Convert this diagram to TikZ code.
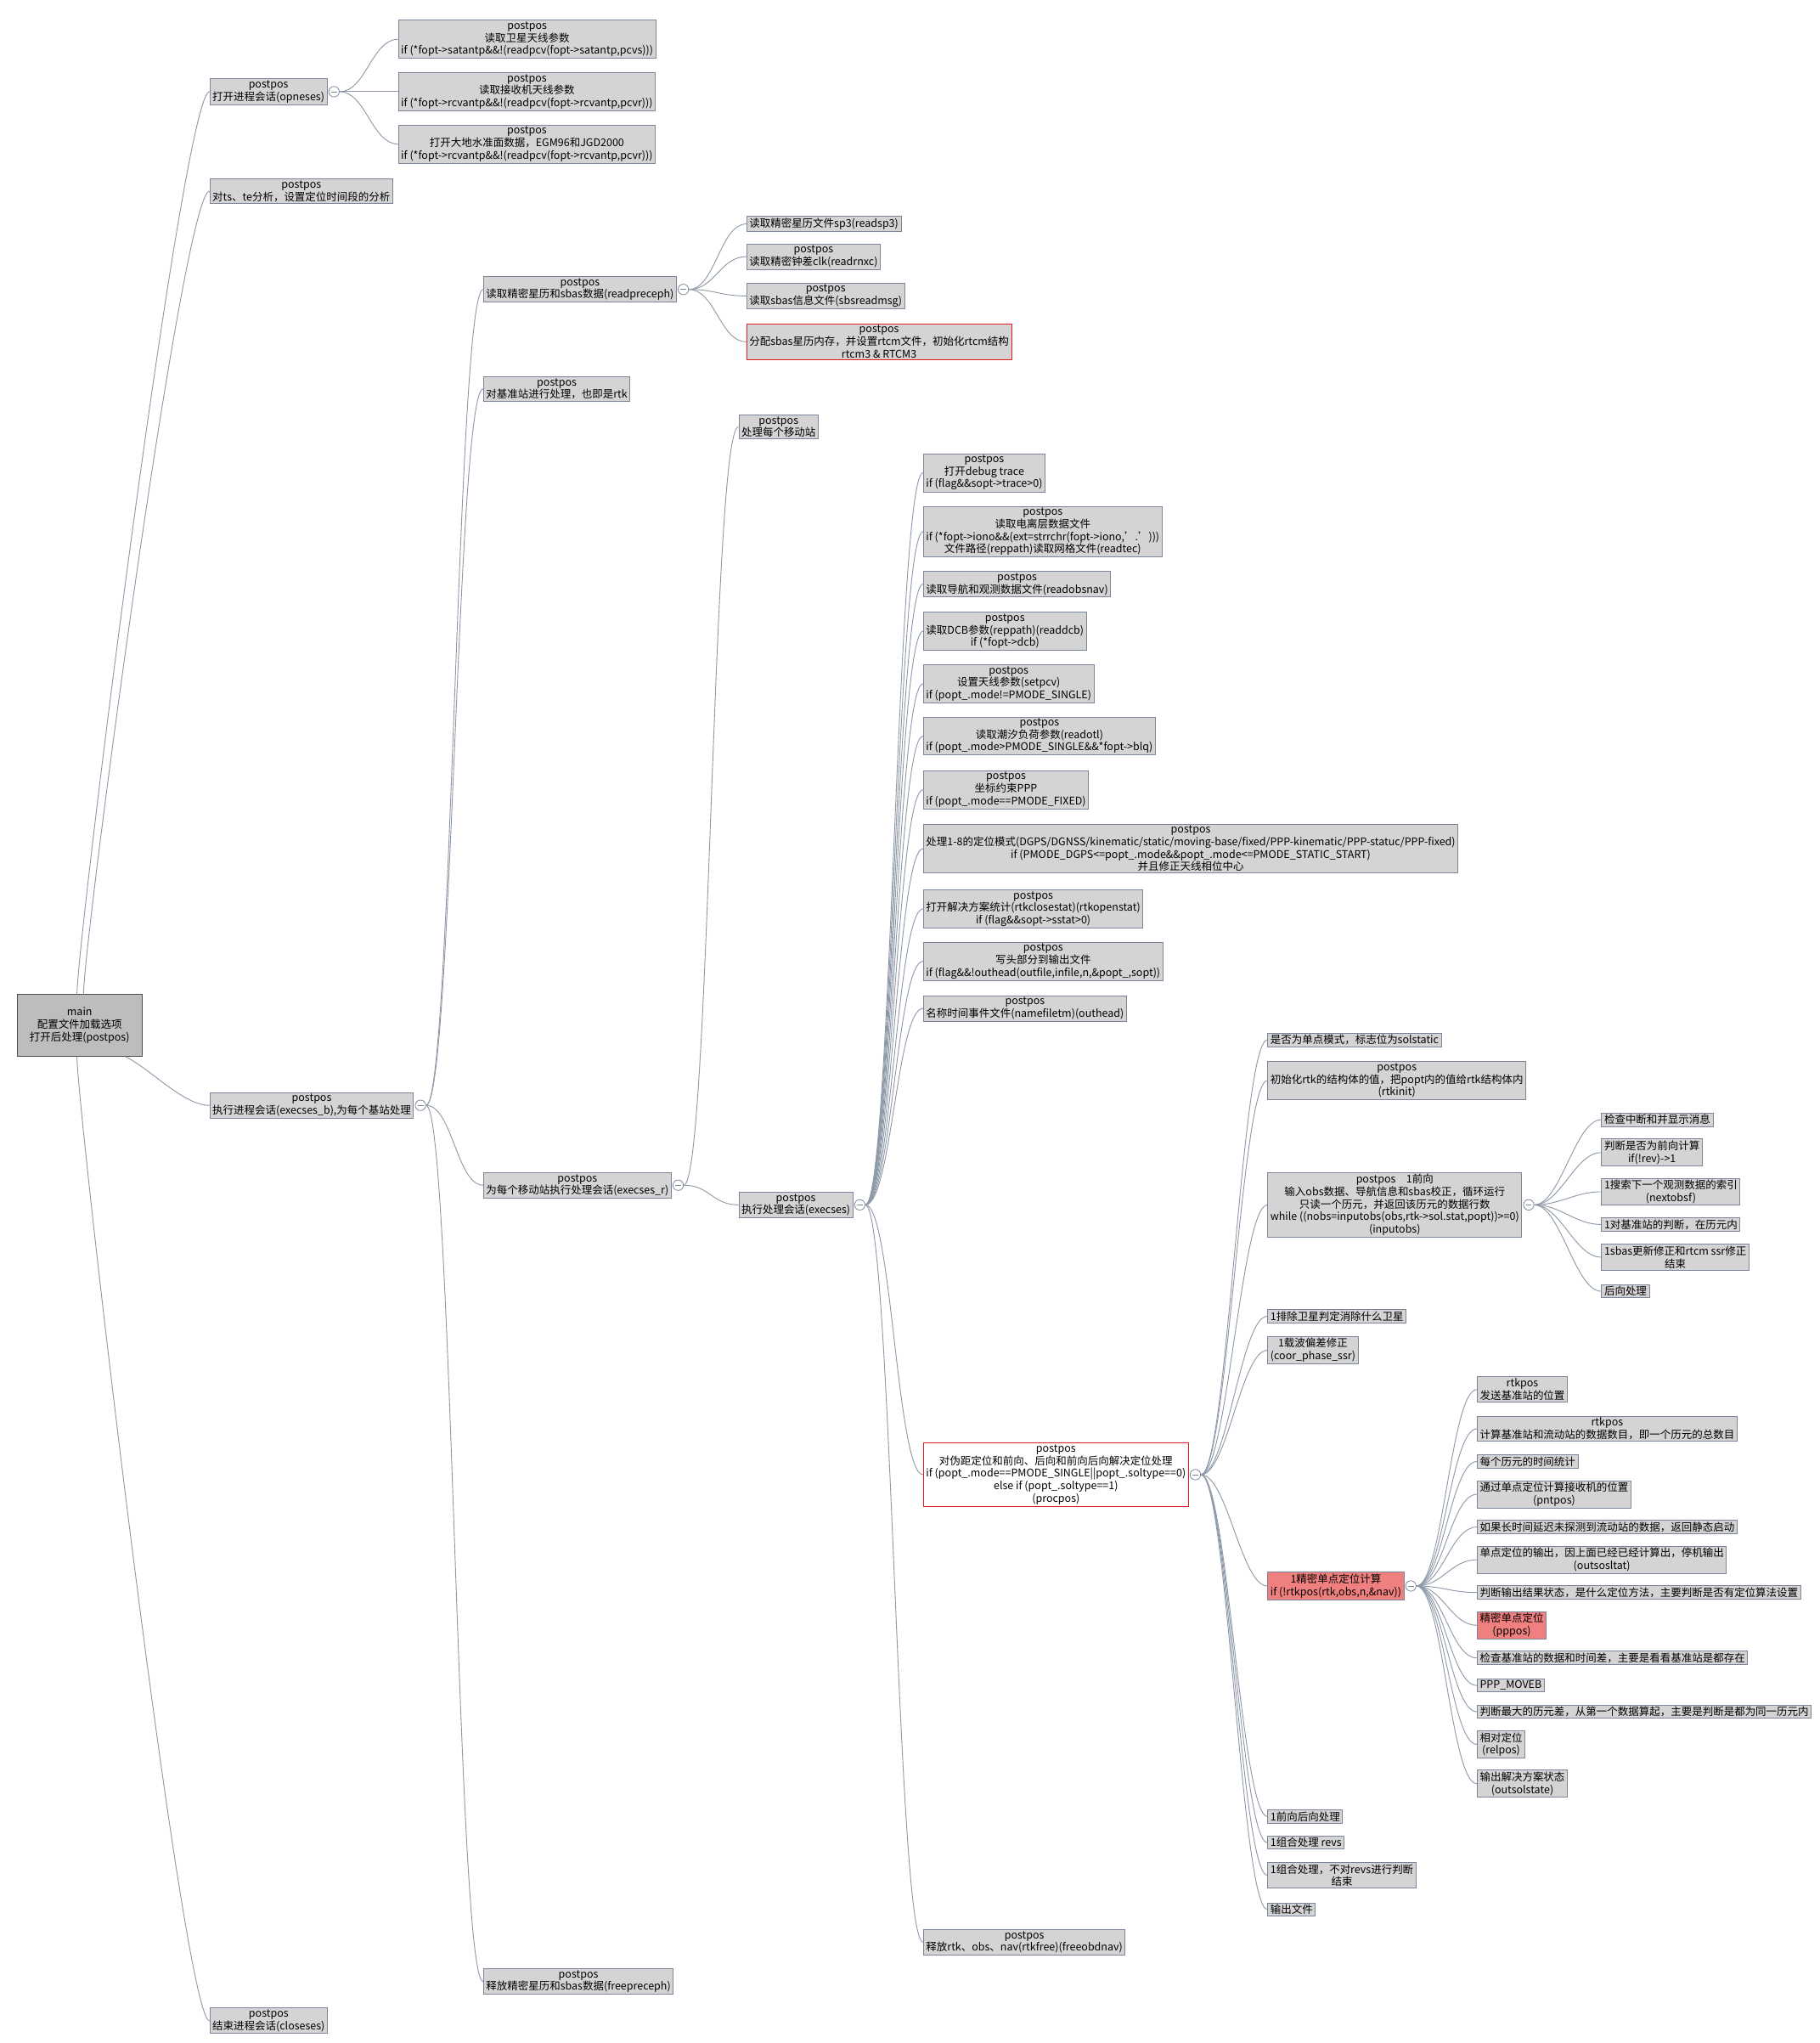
\documentclass[tikz,border=0pt]{standalone}
\usepackage{fontspec}
\setmainfont{Noto Sans CJK SC}
\definecolor{boxc}{HTML}{D4D4D4}
\definecolor{bdr}{HTML}{7A8599}
\definecolor{lnk}{HTML}{8E99A8}
\definecolor{rootc}{HTML}{BDBDBD}
\definecolor{redb}{HTML}{E31A1C}
\definecolor{redf}{HTML}{F08080}
\tikzset{
  bx/.style={draw=bdr, fill=boxc, align=center, inner xsep=2pt, inner ysep=1.3pt, font=\fontsize{8.1}{9.5}\selectfont, anchor=west, line width=0.6pt},
  redbox/.style={bx, draw=redb},
  redfill/.style={bx, fill=redf, draw=bdr},
  rootbox/.style={bx, fill=rootc, draw=black!70, inner xsep=6pt, minimum height=47pt, minimum width=95pt},
  link/.style={draw=lnk, line width=0.6pt},
  tog/.style={circle, draw=bdr, fill=white, inner sep=0pt, minimum size=8pt, line width=0.5pt},
}
\newcommand\cn[3]{\draw[link] (#2) .. controls +(#1,0) and +(-#1,0) .. (#3.west);}
\newcommand\tg[2]{\node[tog] (#2) at ([xshift=5pt]#1.east) {}; \draw[bdr,line width=0.5pt] ([xshift=-2.2pt]#2.center) -- ([xshift=2.2pt]#2.center);}
\begin{document}
\begin{tikzpicture}[x=1pt,y=-1pt]
\useasboundingbox[fill=white] (0,0) rectangle (1390,1560);
% root
\node[rootbox] (main) at (13,783) {main\\配置文件加载选项\\打开后处理(postpos)};
% level 1
\node[bx] (a1) at (160,70) {postpos\\打开进程会话(opneses)};
\node[bx] (a2) at (160,146) {postpos\\对ts、te分析，设置定位时间段的分析};
\node[bx] (a3) at (160,844) {postpos\\执行进程会话(execses\_b),为每个基站处理};
\node[bx] (a4) at (160,1543) {postpos\\结束进程会话(closeses)};
\draw[link] ([xshift=-2pt]main.north) .. controls +(0,-40) and +(-20,0) .. (a1.west);
\draw[link] ([xshift=3pt]main.north) .. controls +(0,-40) and +(-20,0) .. (a2.west);
\draw[link] ([xshift=35pt]main.south) .. controls +(20,10) and +(-20,0) .. (a3.west);
\draw[link] ([xshift=-2pt]main.south) .. controls +(0,40) and +(-20,0) .. (a4.west);
% a1 children
\tg{a1}{ta1}
\node[bx] (a11) at (304,30) {postpos\\读取卫星天线参数\\if (*fopt->satantp\&\&!(readpcv(fopt->satantp,pcvs)))};
\node[bx] (a12) at (304,70) {postpos\\读取接收机天线参数\\if (*fopt->rcvantp\&\&!(readpcv(fopt->rcvantp,pcvr)))};
\node[bx] (a13) at (304,110) {postpos\\打开大地水准面数据，EGM96和JGD2000\\if (*fopt->rcvantp\&\&!(readpcv(fopt->rcvantp,pcvr)))};
\foreach \c in {a11,a12,a13}{\cn{20}{ta1.east}{\c}}
% a3 children
\tg{a3}{ta3}
\node[bx] (b1) at (369,221) {postpos\\读取精密星历和sbas数据(readpreceph)};
\node[bx] (b2) at (369,297) {postpos\\对基准站进行处理，也即是rtk};
\node[bx] (b3) at (369,905) {postpos\\为每个移动站执行处理会话(execses\_r)};
\node[bx] (b4) at (369,1513) {postpos\\释放精密星历和sbas数据(freepreceph)};
\foreach \c in {b1,b2,b3,b4}{\cn{20}{ta3.east}{\c}}
% b1 children
\tg{b1}{tb1}
\node[bx] (b11) at (570,171) {读取精密星历文件sp3(readsp3)};
\node[bx] (b12) at (570,196) {postpos\\读取精密钟差clk(readrnxc)};
\node[bx] (b13) at (570,226) {postpos\\读取sbas信息文件(sbsreadmsg)};
\node[redbox] (b14) at (570,261) {postpos\\分配sbas星历内存，并设置rtcm文件，初始化rtcm结构\\rtcm3 \& RTCM3};
\foreach \c in {b11,b12,b13,b14}{\cn{20}{tb1.east}{\c}}
% b3 children
\tg{b3}{tb3}
\node[bx] (c1) at (564,326) {postpos\\处理每个移动站};
\node[bx] (c2) at (564,920) {postpos\\执行处理会话(execses)};
\foreach \c in {c1,c2}{\cn{20}{tb3.east}{\c}}
% c2 children
\tg{c2}{tc2}
\node[bx] (d1) at (705,361) {postpos\\打开debug trace\\if (flag\&\&sopt->trace>0)};
\node[bx] (d2) at (705,406) {postpos\\读取电离层数据文件\\if (*fopt->iono\&\&(ext=strrchr(fopt->iono,'.')))\\文件路径(reppath)读取网格文件(readtec)};
\node[bx] (d3) at (705,446) {postpos\\读取导航和观测数据文件(readobsnav)};
\node[bx] (d4) at (705,482) {postpos\\读取DCB参数(reppath)(readdcb)\\if (*fopt->dcb)};
\node[bx] (d5) at (705,522) {postpos\\设置天线参数(setpcv)\\if (popt\_.mode!=PMODE\_SINGLE)};
\node[bx] (d6) at (705,562) {postpos\\读取潮汐负荷参数(readotl)\\if (popt\_.mode>PMODE\_SINGLE\&\&*fopt->blq)};
\node[bx] (d7) at (705,603) {postpos\\坐标约束PPP\\if (popt\_.mode==PMODE\_FIXED)};
\node[bx] (d8) at (705,648) {postpos\\处理1-8的定位模式(DGPS/DGNSS/kinematic/static/moving-base/fixed/PPP-kinematic/PPP-statuc/PPP-fixed)\\if (PMODE\_DGPS<=popt\_.mode\&\&popt\_.mode<=PMODE\_STATIC\_START)\\并且修正天线相位中心};
\node[bx] (d9) at (705,694) {postpos\\打开解决方案统计(rtkclosestat)(rtkopenstat)\\if (flag\&\&sopt->sstat>0)};
\node[bx] (d10) at (705,734) {postpos\\写头部分到输出文件\\if (flag\&\&!outhead(outfile,infile,n,\&popt\_,sopt))};
\node[bx] (d11) at (705,770) {postpos\\名称时间事件文件(namefiletm)(outhead)};
\node[redbox, fill=white] (dd) at (705,1126) {postpos\\对伪距定位和前向、后向和前向后向解决定位处理\\if (popt\_.mode==PMODE\_SINGLE||popt\_.soltype==0)\\else if (popt\_.soltype==1)\\(procpos)};
\node[bx] (d13) at (705,1483) {postpos\\释放rtk、obs、nav(rtkfree)(freeobdnav)};
\foreach \c in {d1,d2,d3,d4,d5,d6,d7,d8,d9,d10,d11,dd,d13}{\cn{20}{tc2.east}{\c}}
% dd children
\tg{dd}{tdd}
\node[bx] (e1) at (968,794) {是否为单点模式，标志位为solstatic};
\node[bx] (e2) at (968,825) {postpos\\初始化rtk的结构体的值，把popt内的值给rtk结构体内\\(rtkinit)};
\node[bx] (ee) at (968,920) {postpos\quad 1前向\\输入obs数据、导航信息和sbas校正，循环运行\\只读一个历元，并返回该历元的数据行数\\while ((nobs=inputobs(obs,rtk->sol.stat,popt))>=0)\\(inputobs)};
\node[bx] (e4) at (968,1005) {1排除卫星判定消除什么卫星};
\node[bx] (e5) at (968,1031) {1载波偏差修正\\(coor\_phase\_ssr)};
\node[redfill] (ff) at (968,1211) {1精密单点定位计算\\if (!rtkpos(rtk,obs,n,\&nav))};
\node[bx] (e7) at (968,1387) {1前向后向处理};
\node[bx] (e8) at (968,1407) {1组合处理 revs};
\node[bx] (e9) at (968,1432) {1组合处理，不对revs进行判断\\结束};
\node[bx] (e10) at (968,1458) {输出文件};
\foreach \c in {e1,e2,ee,e4,e5,ff,e7,e8,e9,e10}{\cn{20}{tdd.east}{\c}}
% ee children
\tg{ee}{tee}
\node[bx] (g1) at (1223,855) {检查中断和并显示消息};
\node[bx] (g2) at (1223,880) {判断是否为前向计算\\if(!rev)->1};
\node[bx] (g3) at (1223,910) {1搜索下一个观测数据的索引\\(nextobsf)};
\node[bx] (g4) at (1223,935) {1对基准站的判断，在历元内};
\node[bx] (g5) at (1223,960) {1sbas更新修正和rtcm ssr修正\\结束};
\node[bx] (g6) at (1223,986) {后向处理};
\foreach \c in {g1,g2,g3,g4,g5,g6}{\cn{20}{tee.east}{\c}}
% ff children
\tg{ff}{tff}
\node[bx] (h1) at (1128,1061) {rtkpos\\发送基准站的位置};
\node[bx] (h2) at (1128,1091) {rtkpos\\计算基准站和流动站的数据数目，即一个历元的总数目};
\node[bx] (h3) at (1128,1116) {每个历元的时间统计};
\node[bx] (h4) at (1128,1141) {通过单点定位计算接收机的位置\\(pntpos)};
\node[bx] (h5) at (1128,1166) {如果长时间延迟未探测到流动站的数据，返回静态启动};
\node[bx] (h6) at (1128,1191) {单点定位的输出，因上面已经已经计算出，停机输出\\(outsosltat)};
\node[bx] (h7) at (1128,1216) {判断输出结果状态，是什么定位方法，主要判断是否有定位算法设置};
\node[redfill] (h8) at (1128,1241) {精密单点定位\\(pppos)};
\node[bx] (h9) at (1128,1266) {检查基准站的数据和时间差，主要是看看基准站是都存在};
\node[bx] (h10) at (1128,1287) {PPP\_MOVEB};
\node[bx] (h11) at (1128,1307) {判断最大的历元差，从第一个数据算起，主要是判断是都为同一历元内};
\node[bx] (h12) at (1128,1332) {相对定位\\(relpos)};
\node[bx] (h13) at (1128,1362) {输出解决方案状态\\(outsolstate)};
\foreach \c in {h1,h2,h3,h4,h5,h6,h7,h8,h9,h10,h11,h12,h13}{\cn{20}{tff.east}{\c}}
\end{tikzpicture}
\end{document}
